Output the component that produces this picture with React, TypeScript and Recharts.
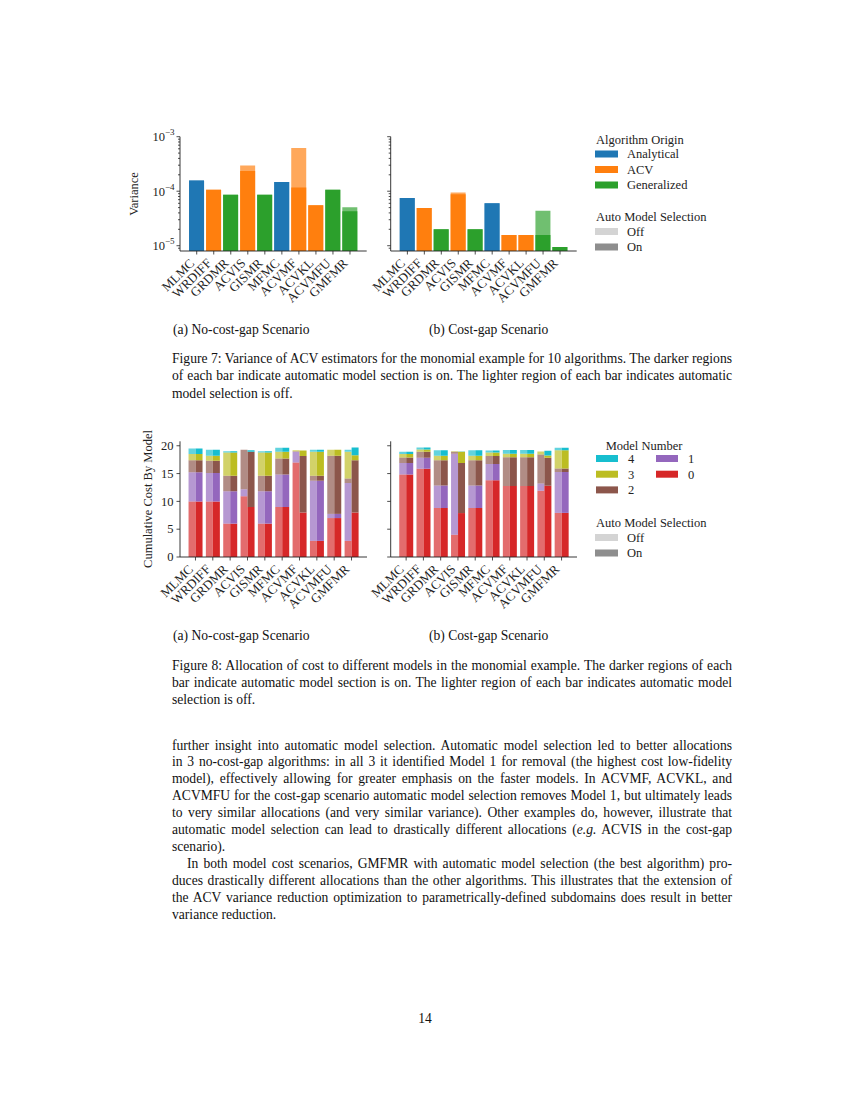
import React from 'react';
import { BarChart, Bar, XAxis, YAxis, Cell } from 'recharts';

const FONT = '"Liberation Serif", "Times New Roman", serif';
const INK = '#222222';

const algorithms = ['MLMC', 'WRDIFF', 'GRDMR', 'ACVIS', 'GISMR', 'MFMC', 'ACVMF', 'ACVKL', 'ACVMFU', 'GMFMR'];
const origins = ['Analytical', 'ACV', 'Generalized', 'ACV', 'Generalized', 'Analytical', 'ACV', 'ACV', 'Generalized', 'Generalized'];
const originNames = ['Analytical', 'ACV', 'Generalized'];
const originColors = ['#1f77b4', '#ff7f0e', '#2ca02c'];

const varianceNoGapOff = [1.57e-4, 1.06e-4, 8.6e-5, 2.97e-4, 8.6e-5, 1.48e-4, 6.2e-4, 5.5e-5, 1.06e-4, 5.06e-5];
const varianceNoGapOn = [1.57e-4, 1.06e-4, 8.6e-5, 2.35e-4, 8.6e-5, 1.48e-4, 1.17e-4, 5.5e-5, 1.06e-4, 4.27e-5];
const varianceGapOff = [7.5e-5, 4.9e-5, 2.0e-5, 9.5e-5, 2.0e-5, 6.0e-5, 1.58e-5, 1.58e-5, 4.4e-5, 9.5e-6];
const varianceGapOn = [7.5e-5, 4.9e-5, 2.0e-5, 8.8e-5, 2.0e-5, 6.0e-5, 1.58e-5, 1.58e-5, 1.58e-5, 9.5e-6];

const varianceMajorExponents = [-5, -4, -3];
const varianceMinorTicks = [
  9e-6,
  2e-5, 3e-5, 4e-5, 5e-5, 6e-5, 7e-5, 8e-5, 9e-5,
  2e-4, 3e-4, 4e-4, 5e-4, 6e-4, 7e-4, 8e-4, 9e-4,
];
const varianceDomain = [8e-6, 1e-3];

const modelNumbers = [0, 1, 2, 3, 4];
const modelColors = ['#d62728', '#9467bd', '#8c564b', '#bcbd22', '#17becf'];
const legendModelOrder = [4, 3, 2, 1, 0];

// rows: model 0..4, columns: algorithms
const costNoGapOff = [
  [10.0, 10.0, 6.0, 10.9, 6.0, 9.0, 17.0, 2.9, 7.0, 2.9],
  [5.25, 5.1, 5.83, 1.3, 5.83, 5.83, 1.9, 10.8, 0.75, 10.4],
  [2.15, 2.2, 2.77, 7.1, 2.77, 2.89, 0.1, 0.9, 10.45, 0.8],
  [1.1, 0.9, 4.2, 0, 4.2, 1.2, 0.2, 4.3, 1.08, 4.8],
  [1.0, 1.1, 0.2, 0, 0.2, 0.72, 0, 0.38, 0, 0.4],
];
const costNoGapOn = [
  [10.0, 10.0, 6.0, 9.0, 6.0, 9.0, 8.0, 2.9, 7.0, 8.0],
  [5.25, 5.1, 5.83, 0, 5.83, 5.83, 0, 10.8, 0.75, 0],
  [2.15, 2.2, 2.77, 9.9, 2.77, 2.89, 10.14, 0.9, 10.45, 9.4],
  [1.1, 0.9, 4.2, 0, 4.2, 1.2, 1.02, 4.3, 1.08, 0.9],
  [1.0, 1.1, 0.2, 0.3, 0.2, 0.72, 0, 0.38, 0, 1.4],
];
const costGapOff = [
  [14.85, 15.86, 8.83, 4.0, 8.83, 13.8, 12.75, 12.75, 11.9, 7.93],
  [2.05, 1.98, 4.02, 14.56, 4.02, 2.9, 0, 0, 1.3, 7.37],
  [1.0, 1.06, 4.56, 0.34, 4.56, 1.44, 5.2, 5.2, 5.24, 0.6],
  [0.6, 0.44, 0.8, 0.1, 0.8, 0.66, 0.6, 0.6, 0.54, 3.3],
  [0.4, 0.36, 0.96, 0, 0.96, 0.36, 0.7, 0.7, 0, 0.44],
];
const costGapOn = [
  [14.85, 15.86, 8.83, 7.9, 8.83, 13.8, 12.75, 12.75, 12.8, 7.93],
  [2.05, 1.98, 4.02, 0, 4.02, 2.9, 0, 0, 0, 7.37],
  [1.0, 1.06, 4.56, 9.0, 4.56, 1.44, 5.2, 5.2, 5.04, 0.6],
  [0.6, 0.44, 0.8, 2.0, 0.8, 0.66, 0.6, 0.6, 0.42, 3.3],
  [0.4, 0.36, 0.96, 0.05, 0.96, 0.36, 0.7, 0.7, 0.84, 0.44],
];
const costTicks = [0, 5, 10, 15, 20];
const costDomain = [0, 20.8];

const selectionNames = ['Off', 'On'];
const selectionColors = ['#d4d4d4', '#8e8e8e'];

const OFF_OPACITY = 0.68;

function colorOfOrigin(o: string) {
  return originColors[originNames.indexOf(o)];
}

function XTick(props: any) {
  const { x, y, payload } = props;
  return (
    <g>
      <line x1={x} x2={x} y1={y} y2={y + 3.5} stroke={INK} strokeWidth={0.8} />
      <text
        transform={`translate(${x - 1.5},${y + 13}) rotate(-45)`}
        textAnchor="end"
        fontFamily={FONT}
        fontSize={13}
        fill={INK}
      >
        {payload.value}
      </text>
    </g>
  );
}

function LogTick(props: any) {
  const { x, y, payload, showLabel } = props;
  const lg = Math.log10(payload.value);
  const e = Math.round(lg);
  const major = Math.abs(lg - e) < 1e-6;
  return (
    <g>
      <line x1={x - (major ? 3.5 : 2)} x2={x} y1={y} y2={y} stroke={INK} strokeWidth={0.8} />
      {major && showLabel ? (
        <text x={x - 5.5} y={y + 4.5} textAnchor="end" fontFamily={FONT} fontSize={12.5} fill={INK}>
          10
          <tspan dy={-6} fontSize={9}>{'\u2212' + Math.abs(e)}</tspan>
        </text>
      ) : null}
    </g>
  );
}

function CostTick(props: any) {
  const { x, y, payload, showLabel } = props;
  return (
    <g>
      <line x1={x - 3.5} x2={x} y1={y} y2={y} stroke={INK} strokeWidth={0.8} />
      {showLabel ? (
        <text x={x - 6.5} y={y + 4.3} textAnchor="end" fontFamily={FONT} fontSize={12.5} fill={INK}>
          {payload.value}
        </text>
      ) : null}
    </g>
  );
}

const varianceTicks = [...varianceMinorTicks, ...varianceMajorExponents.map((e) => Math.pow(10, e))].sort(
  (a, b) => a - b
);

function VarianceChart({ off, on, left, width, yWidth, showLabels }: any) {
  const data = algorithms.map((name, i) => ({ name, off: off[i], on: on[i], origin: origins[i] }));
  const pad = { left: 8.2, right: 8.2 };
  return (
    <div style={{ position: 'absolute', left, top: 120 }}>
      <BarChart
        width={width}
        height={200}
        data={data}
        margin={{ top: 16.7, right: 13.3, bottom: 0, left: 0 }}
        barCategoryGap="5%"
        barGap={0}
      >
        <XAxis
          xAxisId="main"
          dataKey="name"
          type="category"
          interval={0}
          padding={pad}
          height={69}
          tickSize={0}
          tickMargin={0}
          tickLine={false}
          axisLine={{ stroke: INK, strokeWidth: 0.9 }}
          tick={(p: any) => <XTick {...p} />}
        />
        <XAxis xAxisId="off" dataKey="name" type="category" padding={pad} hide />
        <XAxis
          xAxisId="top"
          orientation="top"
          dataKey="name"
          type="category"
          height={0}
          tick={false}
          tickLine={false}
          axisLine={{ stroke: INK, strokeWidth: 0.9 }}
        />
        <YAxis
          yAxisId="v"
          type="number"
          scale="log"
          domain={varianceDomain}
          allowDataOverflow
          ticks={varianceTicks}
          interval={0}
          width={yWidth}
          tickSize={0}
          tickMargin={0}
          tickLine={false}
          axisLine={{ stroke: INK, strokeWidth: 0.9 }}
          tick={(p: any) => <LogTick {...p} showLabel={showLabels} />}
        />
        <YAxis
          yAxisId="r"
          orientation="right"
          type="number"
          domain={[0, 1]}
          width={0}
          tick={false}
          tickLine={false}
          axisLine={{ stroke: INK, strokeWidth: 0.9 }}
        />
        <Bar xAxisId="off" yAxisId="v" dataKey="off" isAnimationActive={false}>
          {data.map((d, i) => (
            <Cell key={'off' + i} fill={colorOfOrigin(d.origin)} fillOpacity={OFF_OPACITY} />
          ))}
        </Bar>
        <Bar xAxisId="main" yAxisId="v" dataKey="on" isAnimationActive={false}>
          {data.map((d, i) => (
            <Cell key={'on' + i} fill={colorOfOrigin(d.origin)} />
          ))}
        </Bar>
      </BarChart>
    </div>
  );
}

function CostChart({ off, on, left, width, yWidth, showLabels }: any) {
  const data = algorithms.map((name, i) => {
    const row: any = { name };
    modelNumbers.forEach((m) => {
      row['off' + m] = off[m][i];
      row['on' + m] = on[m][i];
    });
    return row;
  });
  const pad = { left: 6.8, right: 6.8 };
  return (
    <div style={{ position: 'absolute', left, top: 425 }}>
      <BarChart
        width={width}
        height={200}
        data={data}
        margin={{ top: 16.3, right: 13, bottom: 0, left: 0 }}
        barCategoryGap="10%"
        barGap={0}
      >
        <XAxis
          dataKey="name"
          type="category"
          interval={0}
          padding={pad}
          height={68}
          tickSize={0}
          tickMargin={0}
          tickLine={false}
          axisLine={{ stroke: INK, strokeWidth: 0.9 }}
          tick={(p: any) => <XTick {...p} />}
        />
        <XAxis
          xAxisId="top"
          orientation="top"
          dataKey="name"
          type="category"
          height={0}
          tick={false}
          tickLine={false}
          axisLine={{ stroke: INK, strokeWidth: 0.9 }}
        />
        <YAxis
          type="number"
          domain={costDomain}
          allowDataOverflow
          ticks={costTicks}
          interval={0}
          width={yWidth}
          tickSize={0}
          tickMargin={0}
          tickLine={false}
          axisLine={{ stroke: INK, strokeWidth: 0.9 }}
          tick={(p: any) => <CostTick {...p} showLabel={showLabels} />}
        />
        <YAxis
          yAxisId="r"
          orientation="right"
          type="number"
          domain={[0, 1]}
          width={0}
          tick={false}
          tickLine={false}
          axisLine={{ stroke: INK, strokeWidth: 0.9 }}
        />
        {modelNumbers.map((m) => (
          <Bar
            key={'off' + m}
            dataKey={'off' + m}
            stackId="off"
            fill={modelColors[m]}
            fillOpacity={OFF_OPACITY}
            isAnimationActive={false}
          />
        ))}
        {modelNumbers.map((m) => (
          <Bar key={'on' + m} dataKey={'on' + m} stackId="on" fill={modelColors[m]} isAnimationActive={false} />
        ))}
      </BarChart>
    </div>
  );
}

const textStyle: React.CSSProperties = {
  position: 'absolute',
  left: 172,
  width: 560,
  fontFamily: FONT,
  fontSize: 13.6,
  lineHeight: '17px',
  color: '#111',
};

function TextLine({ top, children, justify = true, indent = 0, left = 172 }: any) {
  return (
    <div
      style={{
        ...textStyle,
        left,
        top,
        textAlign: justify ? 'justify' : 'left',
        textAlignLast: justify ? 'justify' : 'left',
        textIndent: indent,
      }}
    >
      {children}
    </div>
  );
}

const legendText = { fontFamily: FONT, fontSize: 12.5, fill: INK } as any;

export default function App() {
  const bodyTop = 736.5;
  const bodyStep = 16.9;
  return (
    <div style={{ position: 'absolute', left: 0, top: 0, width: 850, height: 1100, background: '#fff' }}>
      <VarianceChart off={varianceNoGapOff} on={varianceNoGapOn} left={100} width={280} yWidth={80} showLabels />
      <VarianceChart off={varianceGapOff} on={varianceGapOn} left={330} width={260} yWidth={60.7} showLabels={false} />
      <CostChart off={costNoGapOff} on={costNoGapOn} left={100} width={280} yWidth={80} showLabels />
      <CostChart off={costGapOff} on={costGapOn} left={330} width={260} yWidth={60.7} showLabels={false} />

      <svg
        width={850}
        height={1100}
        style={{ position: 'absolute', left: 0, top: 0, pointerEvents: 'none' }}
      >
        <text
          transform="translate(134,194) rotate(-90)"
          textAnchor="middle"
          dominantBaseline="central"
          {...legendText}
        >
          Variance
        </text>
        <text
          transform="translate(148,499) rotate(-90)"
          textAnchor="middle"
          dominantBaseline="central"
          {...legendText}
        >
          Cumulative Cost By Model
        </text>

        {/* Figure 7 legend */}
        <text x={596} y={143.5} {...legendText}>Algorithm Origin</text>
        {originNames.map((n, i) => (
          <g key={n}>
            <rect x={595} y={154 + i * 15.5 - 3.5} width={23} height={7} fill={originColors[i]} />
            <text x={627} y={154 + i * 15.5 + 4.3} {...legendText}>{n}</text>
          </g>
        ))}
        <text x={596} y={220.5} {...legendText}>Auto Model Selection</text>
        {selectionNames.map((n, i) => (
          <g key={n}>
            <rect x={595} y={231.5 + i * 15.5 - 3.5} width={23} height={7} fill={selectionColors[i]} />
            <text x={627} y={231.5 + i * 15.5 + 4.3} {...legendText}>{n}</text>
          </g>
        ))}

        {/* Figure 8 legend */}
        <text x={644} y={449.5} textAnchor="middle" {...legendText}>Model Number</text>
        {legendModelOrder.map((m, k) => {
          const col = k < 3 ? 0 : 1;
          const row = k < 3 ? k : k - 3;
          const px = col === 0 ? 596 : 656;
          const ty = 458.5 + row * 15.7;
          return (
            <g key={'m' + m}>
              <rect x={px} y={ty - 3.5} width={22} height={7} fill={modelColors[m]} />
              <text x={px + 32} y={ty + 4.3} {...legendText}>{String(m)}</text>
            </g>
          );
        })}
        <text x={596} y={526.5} {...legendText}>Auto Model Selection</text>
        {selectionNames.map((n, i) => (
          <g key={'s8' + n}>
            <rect x={595} y={537.5 + i * 15.5 - 3.5} width={23} height={7} fill={selectionColors[i]} />
            <text x={627} y={537.5 + i * 15.5 + 4.3} {...legendText}>{n}</text>
          </g>
        ))}
      </svg>

      {/* Figure 7 captions */}
      <TextLine top={320.5} justify={false} left={173}>(a) No-cost-gap Scenario</TextLine>
      <TextLine top={320.5} justify={false} left={429}>(b) Cost-gap Scenario</TextLine>
      <TextLine top={349.5}>
        Figure 7: Variance of ACV estimators for the monomial example for 10 algorithms. The darker regions
      </TextLine>
      <TextLine top={367}>
        of each bar indicate automatic model section is on. The lighter region of each bar indicates automatic
      </TextLine>
      <TextLine top={384.5} justify={false}>model selection is off.</TextLine>

      {/* Figure 8 captions */}
      <TextLine top={626.5} justify={false} left={173}>(a) No-cost-gap Scenario</TextLine>
      <TextLine top={626.5} justify={false} left={429}>(b) Cost-gap Scenario</TextLine>
      <TextLine top={656.5}>
        Figure 8: Allocation of cost to different models in the monomial example. The darker regions of each
      </TextLine>
      <TextLine top={673.5}>
        bar indicate automatic model section is on. The lighter region of each bar indicates automatic model
      </TextLine>
      <TextLine top={690.5} justify={false}>selection is off.</TextLine>

      {/* Body text */}
      <TextLine top={bodyTop}>
        further insight into automatic model selection. Automatic model selection led to better allocations
      </TextLine>
      <TextLine top={bodyTop + bodyStep}>
        in 3 no-cost-gap algorithms: in all 3 it identified Model 1 for removal (the highest cost low-fidelity
      </TextLine>
      <TextLine top={bodyTop + bodyStep * 2}>
        model), effectively allowing for greater emphasis on the faster models. In ACVMF, ACVKL, and
      </TextLine>
      <TextLine top={bodyTop + bodyStep * 3}>
        ACVMFU for the cost-gap scenario automatic model selection removes Model 1, but ultimately leads
      </TextLine>
      <TextLine top={bodyTop + bodyStep * 4}>
        to very similar allocations (and very similar variance). Other examples do, however, illustrate that
      </TextLine>
      <TextLine top={bodyTop + bodyStep * 5}>
        automatic model selection can lead to drastically different allocations (<i>e.g.</i> ACVIS in the cost-gap
      </TextLine>
      <TextLine top={bodyTop + bodyStep * 6} justify={false}>scenario).</TextLine>
      <TextLine top={bodyTop + bodyStep * 7} indent={15}>
        In both model cost scenarios, GMFMR with automatic model selection (the best algorithm) pro-
      </TextLine>
      <TextLine top={bodyTop + bodyStep * 8}>
        duces drastically different allocations than the other algorithms. This illustrates that the extension of
      </TextLine>
      <TextLine top={bodyTop + bodyStep * 9}>
        the ACV variance reduction optimization to parametrically-defined subdomains does result in better
      </TextLine>
      <TextLine top={bodyTop + bodyStep * 10} justify={false}>variance reduction.</TextLine>

      <div
        style={{
          position: 'absolute',
          left: 0,
          width: 850,
          top: 1009.5,
          textAlign: 'center',
          fontFamily: FONT,
          fontSize: 13.6,
          lineHeight: '17px',
          color: '#111',
        }}
      >
        14
      </div>
    </div>
  );
}
